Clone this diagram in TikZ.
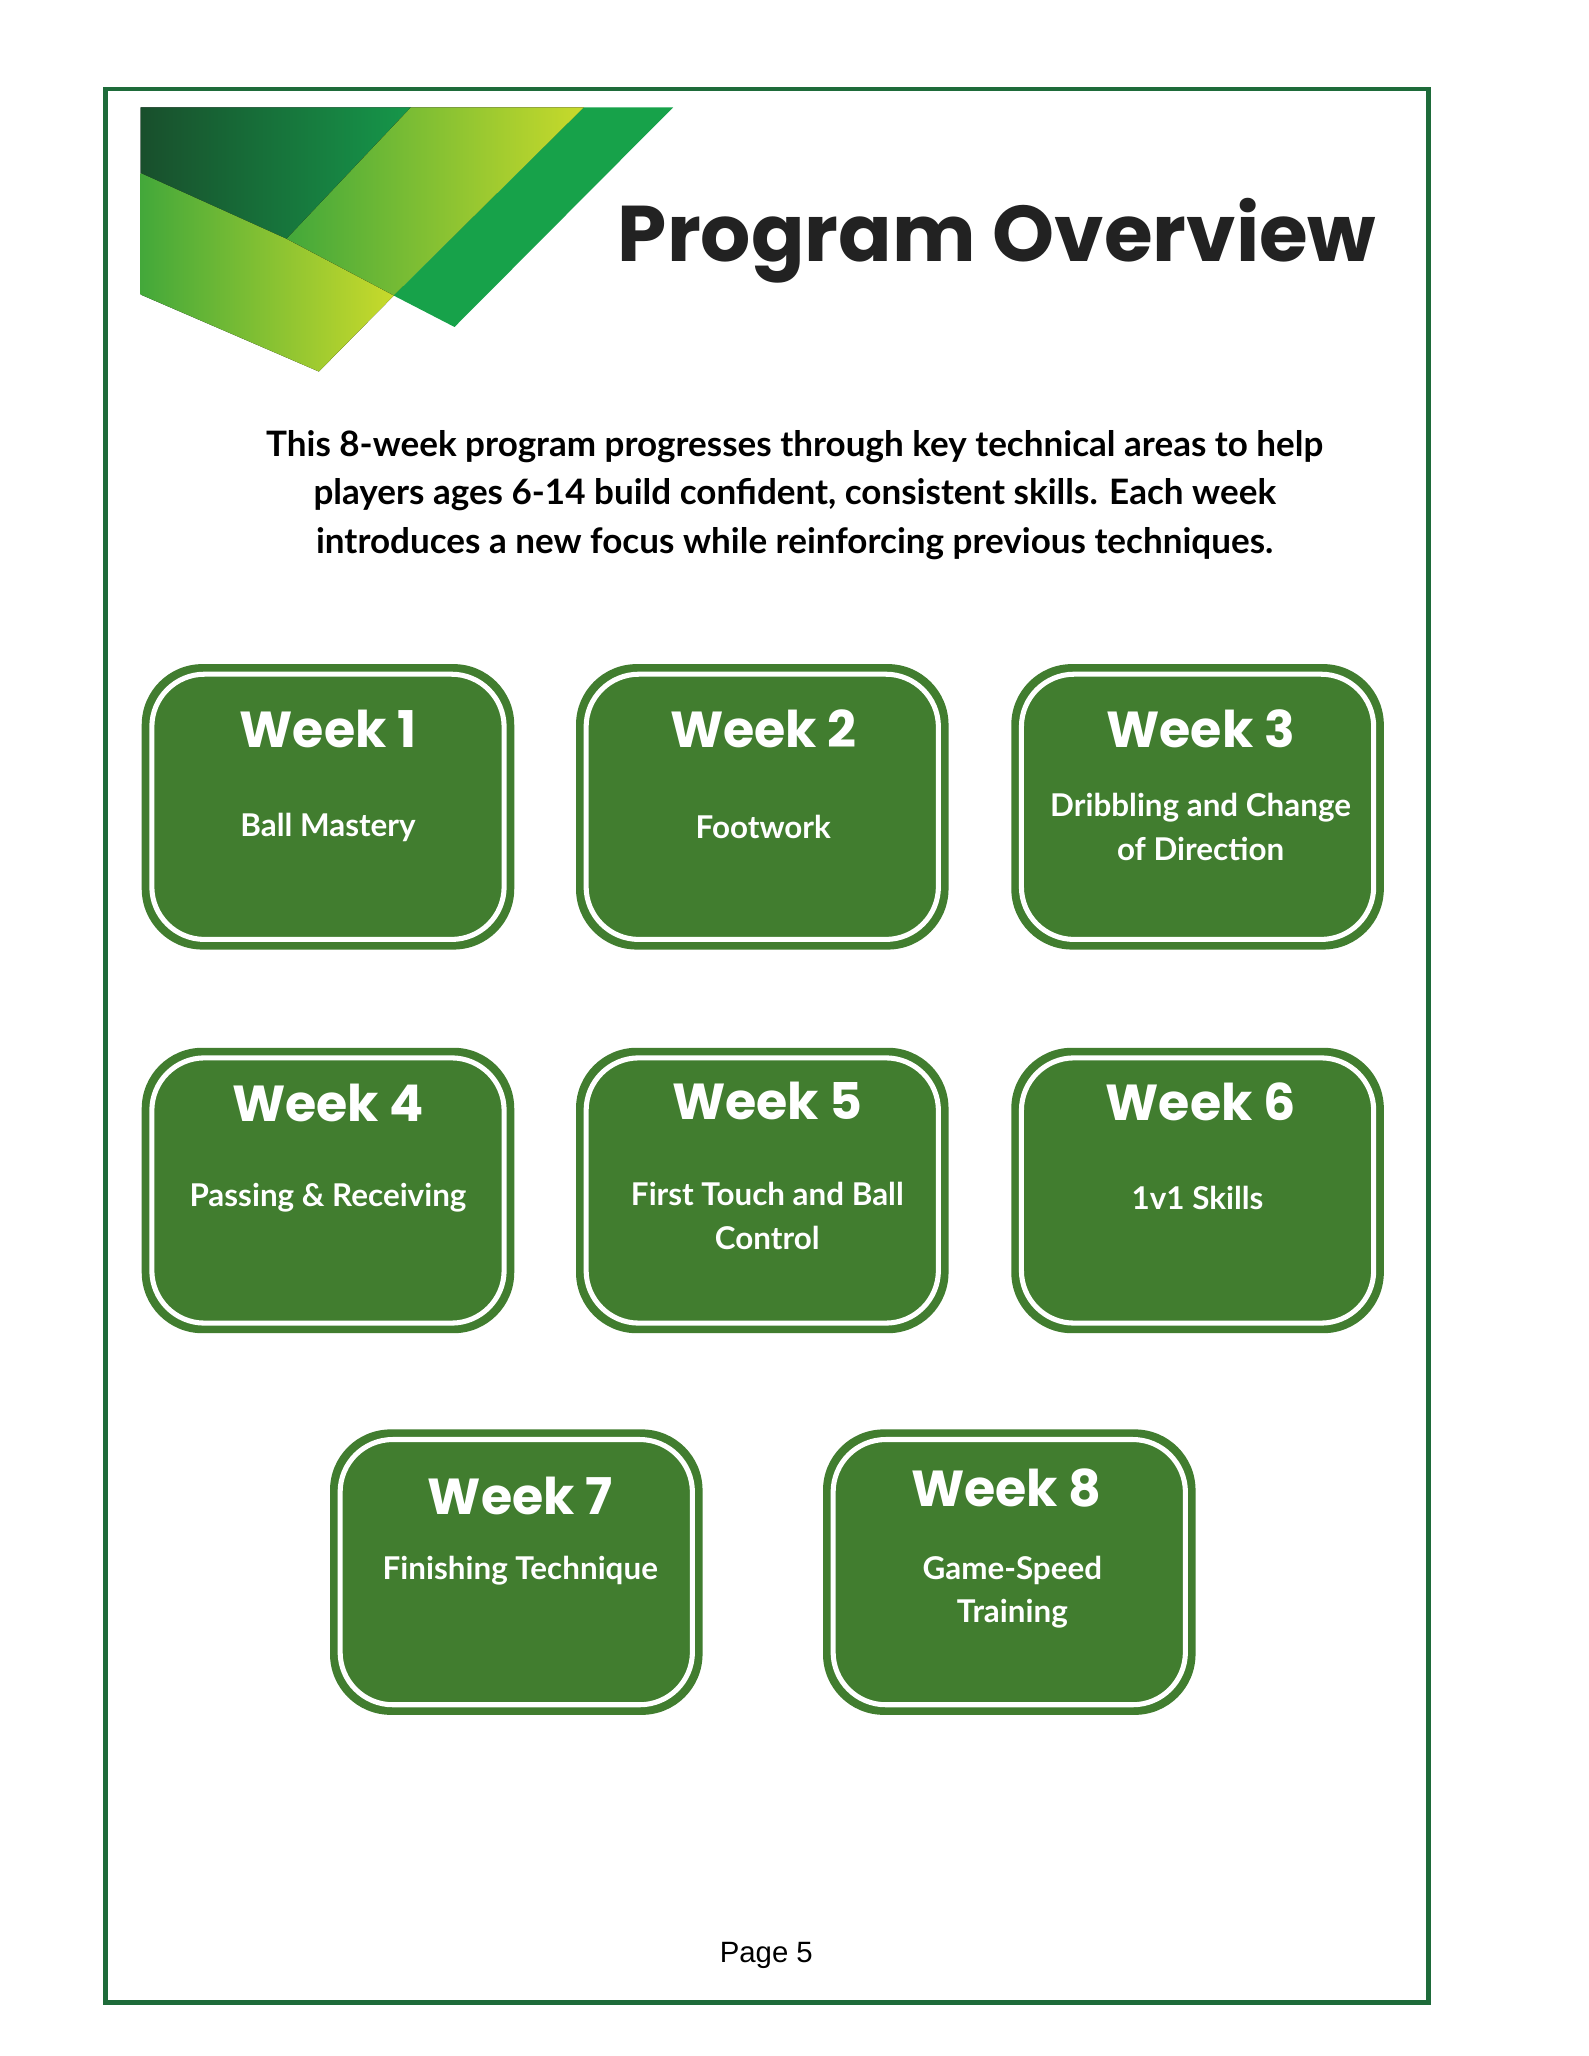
\documentclass[tikz,border=0pt]{standalone}
\usepackage{fontspec}
\setmainfont{Lato}
\newfontfamily\popfont{Poppins}
\newfontfamily\arialfont{Liberation Sans}
\definecolor{frame}{HTML}{1E6B3A}
\definecolor{boxg}{HTML}{417D2F}
\definecolor{dk1}{HTML}{184F2C}
\definecolor{dk2}{HTML}{16974A}
\definecolor{lg1}{HTML}{43A83A}
\definecolor{lg2}{HTML}{C8DA2B}
\definecolor{rg}{HTML}{17A24A}
\definecolor{ink}{HTML}{222222}
\begin{document}
\begin{tikzpicture}[x=0.5pt,y=-0.5pt,
  weekbox/.style={fill=boxg,rounded corners=60*0.5pt},
  weekinner/.style={draw=white,line width=2.5pt,rounded corners=52*0.5pt},
  weektitle/.style={text=white,font=\popfont\bfseries\fontsize{25}{28}\selectfont,inner sep=0},
  weeksub/.style={text=white,font=\bfseries\fontsize{15.5}{21.5}\selectfont,align=center,inner sep=0}]
\useasboundingbox (0,0) rectangle (1569,2031);
\fill[white] (0,0) rectangle (1569,2031);
\draw[frame,line width=2.2pt] (104,88) rectangle (1411,1978);
% decoration
\fill[left color=dk1,right color=dk2] (139,106) -- (406,106) -- (283,236) -- (139,171) -- cycle;
\fill[left color=lg1,right color=lg2] (406,106) -- (577,106) -- (389,292) -- (283,236) -- cycle;
\fill[rg] (577,106) -- (665,106) -- (449,323) -- (389,292) -- cycle;
\fill[left color=lg1,right color=lg2] (139,171) -- (283,236) -- (389,292) -- (315,367) -- (139,291) -- cycle;
\node[text=ink,font=\popfont\bfseries\fontsize{39}{44}\selectfont,inner sep=0] (title) at (985,238) {Program Overview};
\node[text=black,font=\bfseries\fontsize{17.3}{24}\selectfont,align=center,inner sep=0] (intro) at (785,489)
 {This 8-week program progresses through key technical areas to help\\players ages 6-14 build confident, consistent skills. Each week\\introduces a new focus while reinforcing previous techniques.};
% boxes
\foreach \n/\x/\y in {1/140/656,2/569/656,3/999/656,4/140/1035,5/569/1035,6/999/1035,7/326/1412,8/813/1412}{
  \fill[weekbox] (\x,\y) rectangle ++(368,282);
  \draw[weekinner] (\x+10,\y+10) rectangle ++(348,262);
}
\node[weektitle] (w1) at (324,720) {Week 1};
\node[weeksub] (s1) at (324,817) {Ball Mastery};
\node[weektitle] (w2) at (754,720) {Week 2};
\node[weeksub] (s2) at (754,817) {Footwork};
\node[weektitle] (w3) at (1186,720) {Week 3};
\node[weeksub] (s3) at (1186,817) {Dribbling and Change\\of Direction};
\node[weektitle] (w4) at (324,1090) {Week 4};
\node[weeksub] (s4) at (324,1183) {Passing \& Receiving};
\node[weektitle] (w5) at (758,1088) {Week 5};
\node[weeksub] (s5) at (758,1201) {First Touch and Ball\\Control};
\node[weektitle] (w6) at (1186,1088) {Week 6};
\node[weeksub] (s6) at (1183,1183) {1v1 Skills};
\node[weektitle] (w7) at (514,1478) {Week 7};
\node[weeksub] (s7) at (514,1552) {Finishing Technique};
\node[weektitle] (w8) at (994,1470) {Week 8};
\node[weeksub] (s8) at (1000,1573) {Game-Speed\\Training};
\node[font=\arialfont\fontsize{14.5}{17}\selectfont,inner sep=0] (page) at (757,1932) {Page 5};
\end{tikzpicture}
\end{document}
